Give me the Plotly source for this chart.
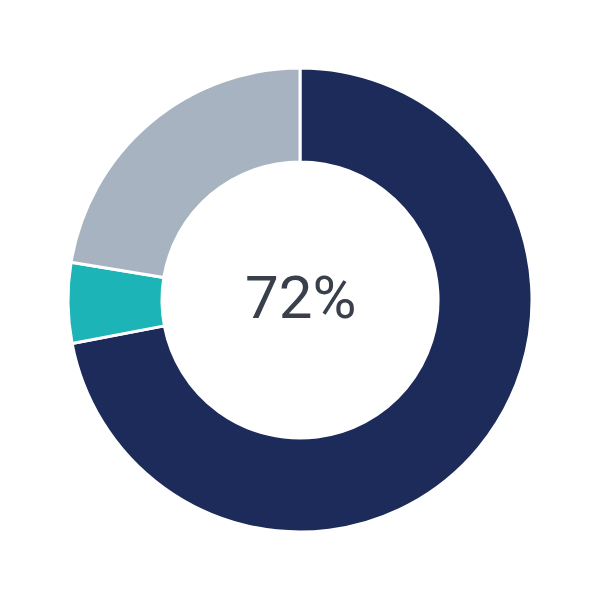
import plotly.graph_objects as go

labels = ["Primary", "Secondary", "Other"]
values = [72, 5.6, 22.4]
colors = ["#1c2b5a", "#1cb4b6", "#a8b3c1"]
center_text = "72%"

fig = go.Figure()

fig.add_trace(go.Pie(
    labels=labels,
    values=values,
    hole=0.595,
    sort=False,
    direction="clockwise",
    rotation=0,
    textinfo="none",
    hoverinfo="label+percent",
    marker=dict(colors=colors, line=dict(color="white", width=3)),
    showlegend=False,
))

fig.add_annotation(
    text=center_text, x=0.5, y=0.5, xref="paper", yref="paper", yshift=3,
    showarrow=False, font=dict(family="Roboto", size=60, color="#3a404b"),
)

# page body adds an 8px offset, so shift the plot area up/left
fig.update_layout(
    width=600, height=600,
    margin=dict(l=60, r=76, t=60, b=76),
    paper_bgcolor="white",
    plot_bgcolor="white",
)

fig.write_html("out.html")
